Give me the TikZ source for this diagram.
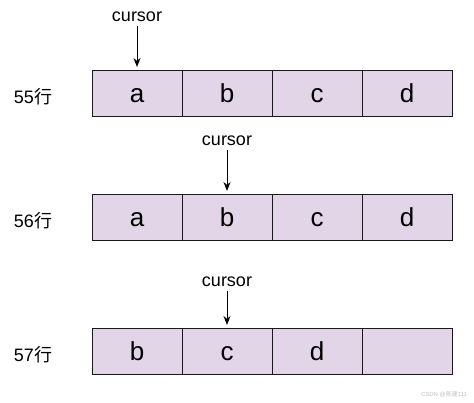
\documentclass[tikz,border=0pt]{standalone}
\usepackage{fontspec}
\setmainfont{Liberation Sans}
\newfontfamily\cjk{Noto Sans CJK SC}
\usetikzlibrary{arrows.meta,positioning}
\definecolor{cellpurple}{HTML}{E1D5E7}
\begin{document}
\begin{tikzpicture}[x=1pt, y=-1pt,
    cell/.style = {draw=black!90, fill=cellpurple, line width=1pt,
      minimum width=90pt, minimum height=46pt, inner sep=0pt, outer sep=0pt,
      text height=18pt, text depth=0pt,
      font=\fontsize{26}{26}\selectfont},
    rowlabel/.style = {font=\fontsize{18}{18}\selectfont},
    curlabel/.style = {font=\fontsize{18}{18}\selectfont, inner sep=1pt},
    pointer/.style = {-{Stealth[length=9pt,width=7pt]}, line width=1pt,
      shorten <=3pt, shorten >=3pt}]
  \useasboundingbox (0,0) rectangle (474,402);

  % 55
  \node[rowlabel] (l55) at (33,97) {55{\cjk 行}};
  \node[cell] (r1a) at (137,93) {a};
  \node[cell, right=0pt of r1a] (r1b) {b};
  \node[cell, right=0pt of r1b] (r1c) {c};
  \node[cell, right=0pt of r1c] (r1d) {d};
  \node[curlabel] (cur1) at (137,17) {cursor};
  \draw[pointer] (cur1) -- (r1a.north);

  % 56
  \node[rowlabel] (l56) at (33,221) {56{\cjk 行}};
  \node[cell] (r2a) at (137,217) {a};
  \node[cell, right=0pt of r2a] (r2b) {b};
  \node[cell, right=0pt of r2b] (r2c) {c};
  \node[cell, right=0pt of r2c] (r2d) {d};
  \node[curlabel] (cur2) at (227,141) {cursor};
  \draw[pointer] (cur2) -- (r2b.north);

  % 57
  \node[rowlabel] (l57) at (33,355) {57{\cjk 行}};
  \node[cell] (r3a) at (137,351) {b};
  \node[cell, right=0pt of r3a] (r3b) {c};
  \node[cell, right=0pt of r3b] (r3c) {d};
  \node[cell, right=0pt of r3c] (r3d) {};
  \node[curlabel] (cur3) at (227,282) {cursor};
  \draw[pointer] (cur3) -- (r3b.north);

  \node[text=black!25, font=\fontsize{6}{6}\selectfont] (mark) at (444,394) {CSDN @{\cjk 陈建}111};
\end{tikzpicture}
\end{document}
